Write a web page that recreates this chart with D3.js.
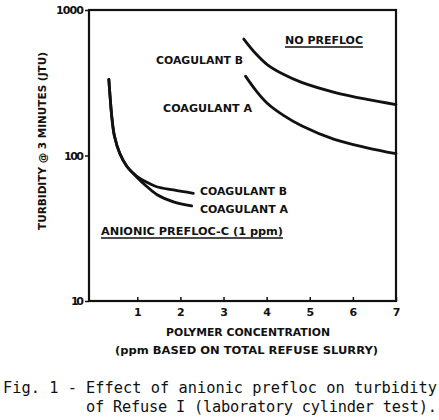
<!DOCTYPE html>
<html>
<head>
<meta charset="utf-8">
<script src="https://cdn.jsdelivr.net/npm/d3@7"></script>
<style>
  body { margin: 0; background: #fff; }
  svg { display: block; }
  .lbl { font-family: "DejaVu Sans", sans-serif; font-weight: bold; fill: #111; }
  .cap { font-family: "DejaVu Sans Mono", "Liberation Mono", monospace; fill: #111; }
</style>
</head>
<body>
<svg width="439" height="420"></svg>
<script>
const width = 439;
const height = 420;

// polymer concentration (ppm) and turbidity (JTU)
const preflocBx = [0.34, 0.415, 0.47, 0.59, 0.76, 0.99, 1.2, 1.45, 1.84, 2.3];
const preflocBy = [334, 177, 136, 104, 84, 72, 66, 61, 58, 55];
const preflocAx = [0.34, 0.415, 0.47, 0.59, 0.76, 0.99, 1.2, 1.45, 1.84, 2.26];
const preflocAy = [334, 177, 136, 104, 84, 71, 62, 54, 48, 45];
const noPreflocBx = [3.47, 3.75, 4.02, 4.4, 4.81, 5.57, 6.33, 7];
const noPreflocBy = [631, 500, 420, 360, 318, 272, 243, 224];
const noPreflocAx = [3.51, 3.75, 4.02, 4.4, 4.81, 5.57, 6.33, 7];
const noPreflocAy = [351, 280, 228, 188, 160, 129, 113, 103];

const xTicks = [1, 2, 3, 4, 5, 6, 7];
const yTicks = [10, 100, 1000];

const x = d3.scaleLinear().domain([-0.12, 7]).range([89, 396]);
const y = d3.scaleLog().domain([10, 1000]).range([301, 10]);

const svg = d3.select("svg");

// frame
svg.append("rect")
    .attr("x", x(-0.12))
    .attr("y", y(1000))
    .attr("width", x(7) - x(-0.12))
    .attr("height", y(10) - y(1000))
    .attr("fill", "none")
    .attr("stroke", "#111")
    .attr("stroke-width", 2.2);

const xAxis = svg.append("g")
    .attr("transform", `translate(0,${y(10)})`)
    .call(d3.axisBottom(x).tickValues(xTicks).tickSizeInner(-4).tickSizeOuter(0).tickPadding(7));
xAxis.select(".domain").remove();
xAxis.selectAll("line").attr("stroke", "#111").attr("stroke-width", 1.5);
xAxis.selectAll("text").attr("class", "lbl").attr("font-size", 11).attr("fill", "#111");

const yAxis = svg.append("g")
    .attr("transform", `translate(${x(-0.12)},0)`)
    .call(d3.axisLeft(y).tickValues(yTicks).tickFormat(d3.format("d")).tickSizeInner(4).tickSizeOuter(0).tickPadding(1));
yAxis.select(".domain").remove();
yAxis.selectAll("line").attr("stroke", "#111").attr("stroke-width", 1.5);
yAxis.selectAll("text").attr("class", "lbl").attr("font-size", 11).attr("fill", "#111")
    .attr("textLength", d => d === 1000 ? 28 : d === 100 ? 20 : 13);

// curves
const line = d3.line()
    .x(d => x(d[0]))
    .y(d => y(d[1]))
    .curve(d3.curveCatmullRom.alpha(0.5));

const series = [
  [preflocBx, preflocBy],
  [preflocAx, preflocAy],
  [noPreflocBx, noPreflocBy],
  [noPreflocAx, noPreflocAy]
];

svg.append("g")
    .attr("fill", "none")
    .attr("stroke", "#111")
    .attr("stroke-width", 2.8)
    .attr("stroke-linecap", "round")
  .selectAll("path")
  .data(series)
  .join("path")
    .attr("d", s => line(s[0].map((v, i) => [v, s[1][i]])));

// labels inside the plot
const labels = [
  { t: "NO PREFLOC", x: 285, y: 44, w: 78, u: true },
  { t: "COAGULANT B", x: 156, y: 64, w: 87 },
  { t: "COAGULANT A", x: 163, y: 112, w: 89 },
  { t: "COAGULANT B", x: 200, y: 195, w: 87 },
  { t: "COAGULANT A", x: 200, y: 213, w: 88 },
  { t: "ANIONIC PREFLOC-C (1 ppm)", x: 101, y: 235, w: 182, u: true }
];

svg.append("g").selectAll("text")
  .data(labels)
  .join("text")
    .attr("class", "lbl")
    .attr("font-size", 10.5)
    .attr("x", d => d.x)
    .attr("y", d => d.y)
    .attr("textLength", d => d.w)
    .attr("lengthAdjust", "spacingAndGlyphs")
    .text(d => d.t);

svg.append("g").selectAll("line")
  .data(labels.filter(d => d.u))
  .join("line")
    .attr("x1", d => d.x)
    .attr("x2", d => d.x + d.w)
    .attr("y1", d => d.y + 3)
    .attr("y2", d => d.y + 3)
    .attr("stroke", "#111")
    .attr("stroke-width", 1.6);

// axis titles
svg.append("text")
    .attr("class", "lbl")
    .attr("font-size", 10)
    .attr("transform", "translate(46,141) rotate(-90)")
    .attr("text-anchor", "middle")
    .attr("textLength", 178)
    .attr("lengthAdjust", "spacingAndGlyphs")
    .text("TURBIDITY @ 3 MINUTES (JTU)");

svg.append("text")
    .attr("class", "lbl")
    .attr("font-size", 11)
    .attr("x", 166)
    .attr("y", 336)
    .attr("textLength", 164)
    .attr("lengthAdjust", "spacingAndGlyphs")
    .text("POLYMER CONCENTRATION");

svg.append("text")
    .attr("class", "lbl")
    .attr("font-size", 11)
    .attr("x", 115)
    .attr("y", 354)
    .attr("textLength", 263)
    .attr("lengthAdjust", "spacingAndGlyphs")
    .text("(ppm BASED ON TOTAL REFUSE SLURRY)");

// caption
svg.append("text")
    .attr("class", "cap")
    .attr("font-size", 15.3)
    .attr("x", 3)
    .attr("y", 393)
    .attr("textLength", 434)
    .text("Fig. 1 - Effect of anionic prefloc on turbidity");

svg.append("text")
    .attr("class", "cap")
    .attr("font-size", 15.3)
    .attr("x", 86)
    .attr("y", 412)
    .attr("textLength", 351)
    .text("of Refuse I (laboratory cylinder test).");
</script>
</body>
</html>
